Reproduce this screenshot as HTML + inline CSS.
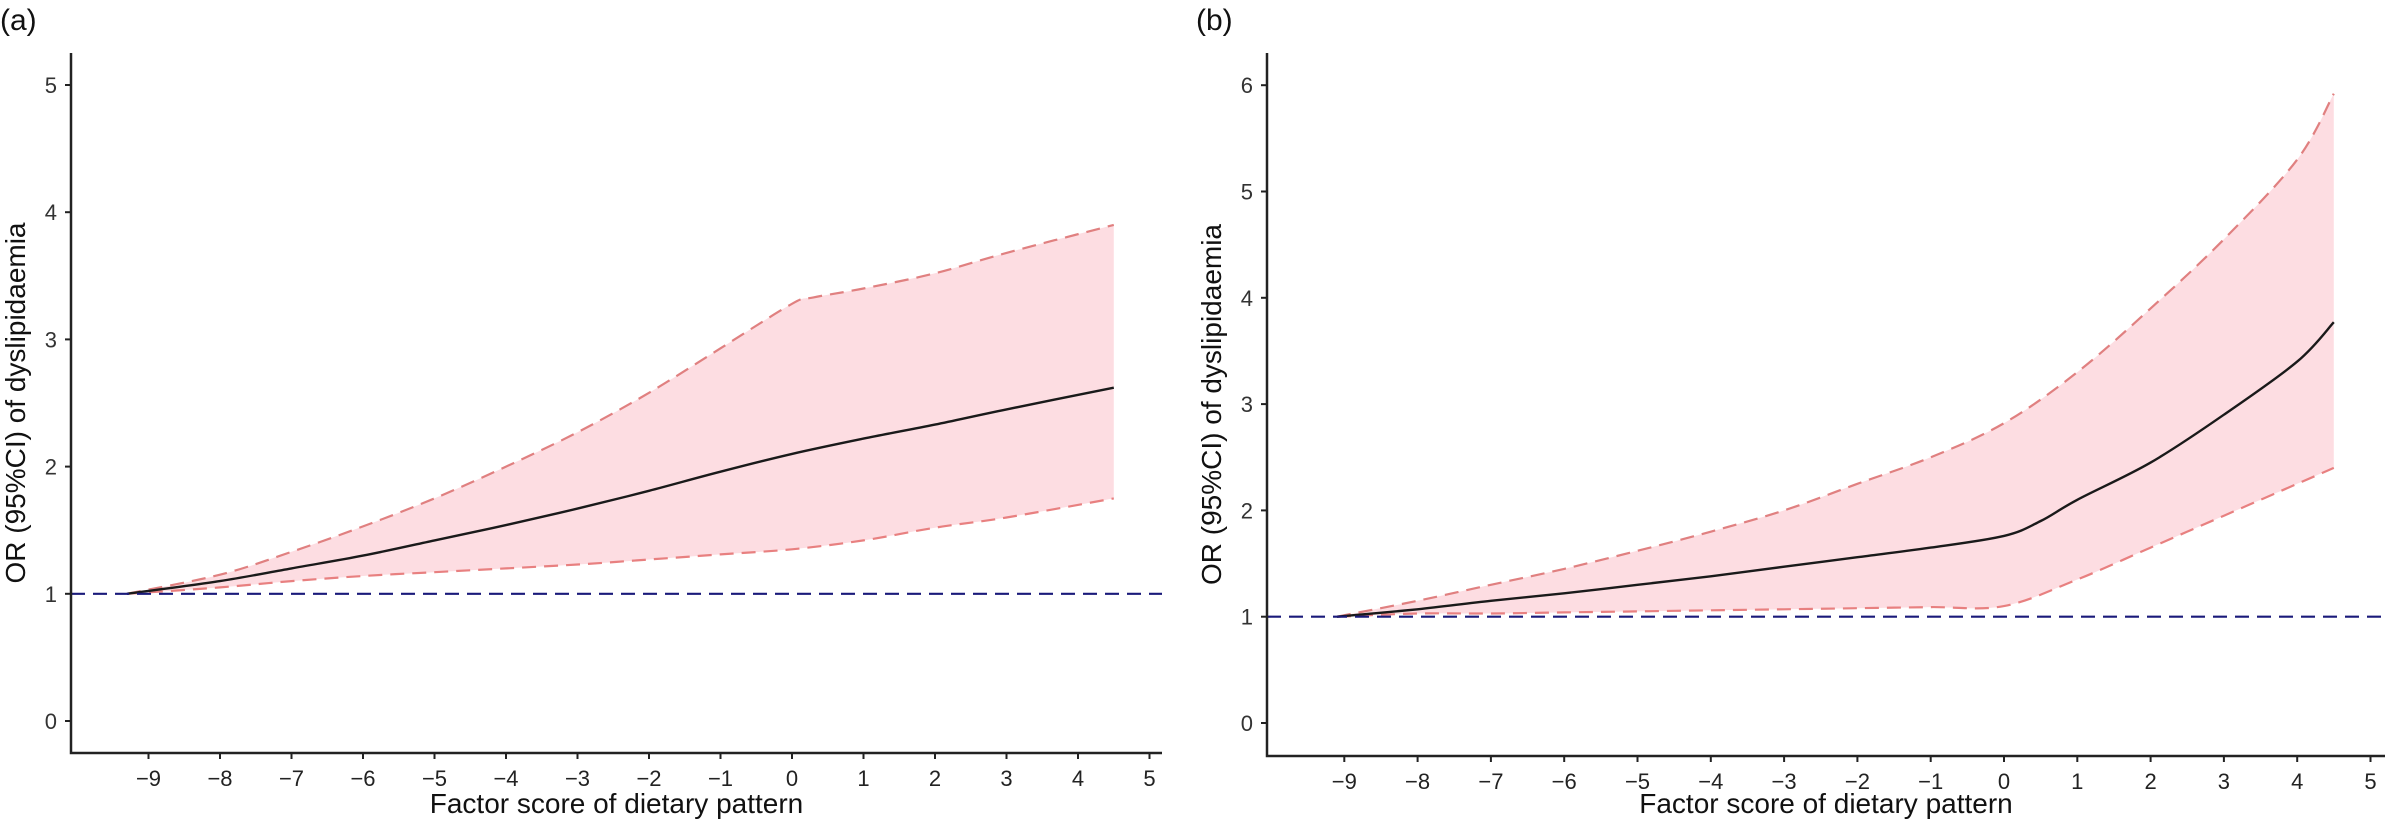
<!DOCTYPE html>
<html><head><meta charset="utf-8"><style>
html,body{margin:0;padding:0;background:#fff;}
svg{display:block;font-family:"Liberation Sans",sans-serif;}
</style></head><body>
<svg id="s" width="2392" height="837" viewBox="0 0 2392 837" xmlns="http://www.w3.org/2000/svg"></svg>
<script>
const S=document.getElementById('s');let h='';
function smooth(p,start){
 let d=(start?'M':'L')+p[0][0].toFixed(1)+','+p[0][1].toFixed(1);
 for(let i=0;i<p.length-1;i++){
  const p0=p[i-1]||p[i],p1=p[i],p2=p[i+1],p3=p[i+2]||p2;
  const c1=[p1[0]+(p2[0]-p0[0])/6,p1[1]+(p2[1]-p0[1])/6];
  const c2=[p2[0]-(p3[0]-p1[0])/6,p2[1]-(p3[1]-p1[1])/6];
  d+=` C${c1[0].toFixed(1)},${c1[1].toFixed(1)} ${c2[0].toFixed(1)},${c2[1].toFixed(1)} ${p2[0].toFixed(1)},${p2[1].toFixed(1)}`;
 }
 return d;
}
function panel(o){
 const X=v=>o.x0+o.ux*v, Y=v=>o.y0-o.uy*v;
 const pts=(a)=>a.map(p=>[X(p[0]),Y(p[1])]);
 const up=pts(o.up), lo=pts(o.lo).reverse();
 h+=`<path d="${smooth(up,true)} ${smooth(lo,false)} Z" fill="#fddde2"/>`;
 h+=`<path d="${smooth(up,true)}" fill="none" stroke="#e08080" stroke-width="2.2" stroke-dasharray="14,8"/>`;
 h+=`<path d="${smooth(pts(o.lo),true)}" fill="none" stroke="#e88080" stroke-width="2.2" stroke-dasharray="14,8"/>`;
 h+=`<path d="${smooth(pts(o.mid),true)}" fill="none" stroke="#1a1a1a" stroke-width="2.4"/>`;
 h+=`<line x1="${o.ax}" y1="${Y(1)}" x2="${o.ae}" y2="${Y(1)}" stroke="#1a1a7a" stroke-width="2.2" stroke-dasharray="14,8"/>`;
 h+=`<path d="M${o.ax},${o.top} L${o.ax},${o.ay} L${o.ae},${o.ay}" fill="none" stroke="#222" stroke-width="2.5"/>`;
 for(let v=0;v<=o.ymax;v++){h+=`<line x1="${o.ax-6}" x2="${o.ax}" y1="${Y(v)}" y2="${Y(v)}" stroke="#222" stroke-width="2"/><text x="${o.ax-14}" y="${Y(v)+8}" font-size="22" fill="#333" text-anchor="end">${v}</text>`;}
 for(let v=-9;v<=5;v++){h+=`<line x1="${X(v)}" x2="${X(v)}" y1="${o.ay}" y2="${o.ay+6}" stroke="#222" stroke-width="2"/><text x="${X(v)}" y="${o.ay+33}" font-size="22" fill="#222" text-anchor="middle">${v<0?'\u2212'+(-v):v}</text>`;}
 h+=`<text x="${(o.ax+o.ae)/2}" y="813" font-size="28" fill="#111" text-anchor="middle">Factor score of dietary pattern</text>`;
 h+=`<text transform="translate(${o.ax-46},${(o.top+o.ay)/2}) rotate(-90)" font-size="28" fill="#111" text-anchor="middle">OR (95%CI) of dyslipidaemia</text>`;
 h+=`<text x="${o.ax-71}" y="30" font-size="30" fill="#111">${o.lab}</text>`;
}
panel({lab:'(a)',x0:792,ux:71.5,y0:721,uy:127.2,ax:71,ae:1162,ay:753,top:53,ymax:5,
 up:[[-9.3,1],[-8,1.15],[-7,1.33],[-6,1.53],[-5,1.75],[-4,2.0],[-3,2.27],[-2,2.58],[-1,2.93],[0,3.28],[0.3,3.33],[1,3.4],[2,3.52],[3,3.68],[4.5,3.9]],
 mid:[[-9.3,1],[-8,1.1],[-7,1.2],[-6,1.3],[-5,1.42],[-4,1.54],[-3,1.67],[-2,1.81],[-1,1.96],[0,2.1],[1,2.22],[2,2.33],[3,2.45],[4.5,2.62]],
 lo:[[-9.3,1],[-8,1.05],[-7,1.1],[-6,1.14],[-5,1.17],[-4,1.2],[-3,1.23],[-2,1.27],[-1,1.31],[0,1.35],[1,1.42],[2,1.52],[3,1.6],[4.5,1.75]]});
panel({lab:'(b)',x0:2004,ux:73.3,y0:723,uy:106.3,ax:1267,ae:2385,ay:756,top:53,ymax:6,
 up:[[-9.1,1],[-8,1.15],[-7,1.3],[-6,1.45],[-5,1.62],[-4,1.8],[-3,2.0],[-2,2.25],[-1,2.5],[0,2.82],[1,3.3],[2,3.9],[3,4.55],[4,5.3],[4.5,5.92]],
 mid:[[-9.1,1],[-8,1.07],[-7,1.15],[-6,1.22],[-5,1.3],[-4,1.38],[-3,1.47],[-2,1.56],[-1,1.65],[0,1.76],[0.5,1.9],[1,2.1],[2,2.45],[3,2.9],[4,3.4],[4.5,3.77]],
 lo:[[-9.1,1],[-8,1.03],[-7,1.03],[-6,1.04],[-5,1.05],[-4,1.06],[-3,1.07],[-2,1.08],[-1,1.09],[0,1.1],[1,1.35],[2,1.65],[3,1.95],[4,2.25],[4.5,2.4]]});
S.innerHTML=h;
</script>
</body></html>
